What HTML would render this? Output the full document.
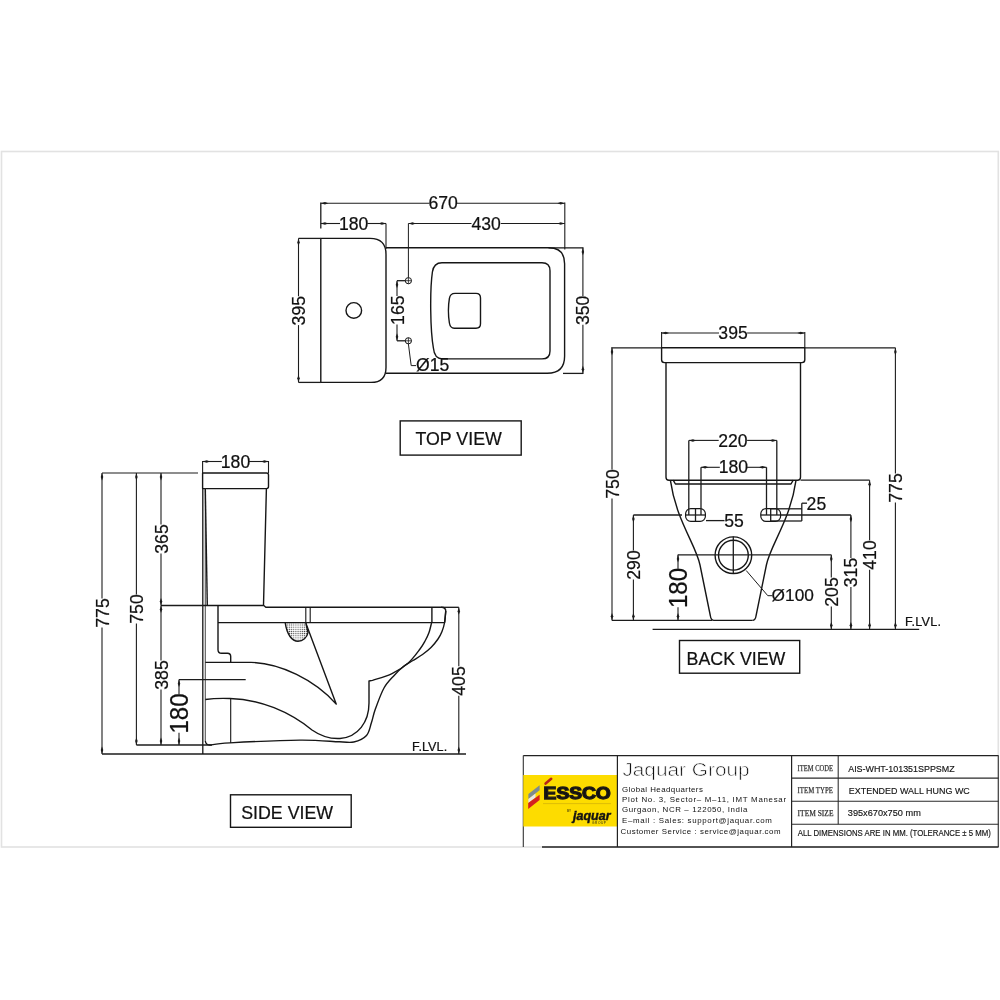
<!DOCTYPE html>
<html><head><meta charset="utf-8"><style>
html,body{margin:0;padding:0;background:#fff;width:1000px;height:1000px;overflow:hidden}
svg{display:block;will-change:transform}
text{font-family:"Liberation Sans",sans-serif;fill:#111}
text.d{stroke:#111;stroke-width:0.22px}
</style></head><body>
<svg width="1000" height="1000" viewBox="0 0 1000 1000">
<rect width="1000" height="1000" fill="#fff"/>
<rect x="1.5" y="151.5" width="996.8" height="695.5" fill="none" stroke="#e2e2e2" stroke-width="1.6"/>
<path d="M320.8,238.4 H370 Q386,238.4 386,254.4 V367.4 Q386,382.4 371,382.4 H320.8 Z" stroke="#161616" stroke-width="1.4" fill="none" stroke-linejoin="round"/>
<path d="M386,247.8 H549 Q564.6,247.8 564.6,263.8 V356.3 Q564.6,373.3 547.3,373.3 H386" stroke="#161616" stroke-width="1.4" fill="none" stroke-linejoin="round"/>
<path d="M442,262.7 H542 Q550,262.7 550,270.7 V350.9 Q550,358.9 542,358.9 H442.5 C436.5,358.9 434,354.5 433.4,348 C430.2,330 429.8,290 432.4,272 C433.2,266 436,262.7 442,262.7 Z" stroke="#161616" stroke-width="1.4" fill="none" stroke-linejoin="round"/>
<path d="M455,293.4 H476 Q480.5,293.4 480.5,297.9 V323.7 Q480.5,328.2 476,328.2 H454.2 C451,328.2 449.9,326 449.4,323 C448.3,316 448.3,305 449.4,298.4 C449.9,295.2 451.5,293.4 455,293.4 Z" stroke="#161616" stroke-width="1.4" fill="none" stroke-linejoin="round"/>
<circle cx="353.8" cy="310.4" r="7.8" fill="none" stroke="#161616" stroke-width="1.4"/>
<circle cx="408.4" cy="280.7" r="3.1" fill="none" stroke="#161616" stroke-width="1"/>
<line x1="405.3" y1="280.7" x2="411.5" y2="280.7" stroke="#1c1c1c" stroke-width="0.8"/>
<line x1="408.4" y1="277.59999999999997" x2="408.4" y2="283.8" stroke="#1c1c1c" stroke-width="0.8"/>
<circle cx="408.4" cy="340.8" r="3.1" fill="none" stroke="#161616" stroke-width="1"/>
<line x1="405.3" y1="340.8" x2="411.5" y2="340.8" stroke="#1c1c1c" stroke-width="0.8"/>
<line x1="408.4" y1="337.7" x2="408.4" y2="343.90000000000003" stroke="#1c1c1c" stroke-width="0.8"/>
<line x1="320.8" y1="202.6" x2="320.8" y2="228.6" stroke="#1c1c1c" stroke-width="1.3"/>
<line x1="564.8" y1="202.6" x2="564.8" y2="249.5" stroke="#1c1c1c" stroke-width="1.1"/>
<line x1="320.8" y1="203.3" x2="429.40000000000003" y2="203.3" stroke="#1c1c1c" stroke-width="1.1"/>
<line x1="457.0" y1="203.3" x2="564.8" y2="203.3" stroke="#1c1c1c" stroke-width="1.1"/>
<path d="M320.80,203.30 L324.93,202.05 L328.30,203.30 L324.93,204.55 Z" fill="#1c1c1c"/>
<path d="M564.80,203.30 L560.67,204.55 L557.30,203.30 L560.67,202.05 Z" fill="#1c1c1c"/>
<text class="d" x="443.20000000000005" y="209.40720000000002" font-size="17.6" text-anchor="middle" >670</text>
<line x1="386" y1="223.5" x2="386" y2="249" stroke="#1c1c1c" stroke-width="1.1"/>
<line x1="320.8" y1="223.5" x2="340.0" y2="223.5" stroke="#1c1c1c" stroke-width="1.1"/>
<line x1="367.4" y1="223.5" x2="386" y2="223.5" stroke="#1c1c1c" stroke-width="1.1"/>
<path d="M320.80,223.50 L324.93,222.25 L328.30,223.50 L324.93,224.75 Z" fill="#1c1c1c"/>
<path d="M386.00,223.50 L381.88,224.75 L378.50,223.50 L381.88,222.25 Z" fill="#1c1c1c"/>
<text class="d" x="353.7" y="229.6072" font-size="17.6" text-anchor="middle" >180</text>
<line x1="408.4" y1="223.5" x2="408.4" y2="277.6" stroke="#1c1c1c" stroke-width="1.0"/>
<line x1="408.4" y1="223.5" x2="471.5" y2="223.5" stroke="#1c1c1c" stroke-width="1.1"/>
<line x1="500.8" y1="223.5" x2="564.8" y2="223.5" stroke="#1c1c1c" stroke-width="1.1"/>
<path d="M408.40,223.50 L412.52,222.25 L415.90,223.50 L412.52,224.75 Z" fill="#1c1c1c"/>
<path d="M564.80,223.50 L560.67,224.75 L557.30,223.50 L560.67,222.25 Z" fill="#1c1c1c"/>
<text class="d" x="486.15" y="229.6072" font-size="17.6" text-anchor="middle" >430</text>
<line x1="298.5" y1="238.4" x2="320.8" y2="238.4" stroke="#1c1c1c" stroke-width="1.3"/>
<line x1="298.5" y1="382.4" x2="320.8" y2="382.4" stroke="#1c1c1c" stroke-width="1.3"/>
<line x1="298.5" y1="238.4" x2="298.5" y2="296.3" stroke="#1c1c1c" stroke-width="1.1"/>
<line x1="298.5" y1="325.09999999999997" x2="298.5" y2="382.4" stroke="#1c1c1c" stroke-width="1.1"/>
<path d="M298.50,238.40 L299.75,242.53 L298.50,245.90 L297.25,242.53 Z" fill="#1c1c1c"/>
<path d="M298.50,382.40 L297.25,378.27 L298.50,374.90 L299.75,378.27 Z" fill="#1c1c1c"/>
<text class="d" x="298.5" y="317.30" font-size="17.6" text-anchor="middle" transform="rotate(-90 298.5 310.7)" >395</text>
<line x1="548.5" y1="247.8" x2="583.5" y2="247.8" stroke="#161616" stroke-width="1.3"/>
<line x1="563" y1="373.4" x2="583.5" y2="373.4" stroke="#1c1c1c" stroke-width="1.3"/>
<line x1="582.9" y1="247.8" x2="582.9" y2="295.90000000000003" stroke="#1c1c1c" stroke-width="1.1"/>
<line x1="582.9" y1="324.7" x2="582.9" y2="373.3" stroke="#1c1c1c" stroke-width="1.1"/>
<path d="M582.90,247.80 L584.15,251.93 L582.90,255.30 L581.65,251.93 Z" fill="#1c1c1c"/>
<path d="M582.90,373.30 L581.65,369.18 L582.90,365.80 L584.15,369.18 Z" fill="#1c1c1c"/>
<text class="d" x="582.9" y="316.90" font-size="17.6" text-anchor="middle" transform="rotate(-90 582.9 310.3)" >350</text>
<line x1="397" y1="280.7" x2="405.3" y2="280.7" stroke="#1c1c1c" stroke-width="1.3"/>
<line x1="397" y1="340.8" x2="405.3" y2="340.8" stroke="#1c1c1c" stroke-width="1.3"/>
<line x1="397" y1="280.7" x2="397" y2="296.0" stroke="#1c1c1c" stroke-width="1.1"/>
<line x1="397" y1="324.4" x2="397" y2="340.8" stroke="#1c1c1c" stroke-width="1.1"/>
<path d="M397.00,280.70 L398.25,284.82 L397.00,288.20 L395.75,284.82 Z" fill="#1c1c1c"/>
<path d="M397.00,340.80 L395.75,336.68 L397.00,333.30 L398.25,336.68 Z" fill="#1c1c1c"/>
<text class="d" x="397" y="316.80" font-size="17.6" text-anchor="middle" transform="rotate(-90 397 310.2)" >165</text>
<path d="M408.4,343.9 L410.2,358 L411.2,365.6 H416" stroke="#1c1c1c" stroke-width="1.0" fill="none" stroke-linejoin="round"/>
<text class="d" x="416" y="370.6" font-size="17.6" text-anchor="start" >Ø15</text>
<rect x="400.2" y="420.9" width="121" height="34.2" fill="none" stroke="#161616" stroke-width="1.4"/>
<text class="d" x="415.5" y="444.6" font-size="17.8" text-anchor="start" >TOP VIEW</text>
<path d="M202.6,473 H266.5 Q268.5,473 268.5,475 V486.5 Q268.5,488.6 266.5,488.6 H202.6 Z" stroke="#161616" stroke-width="1.4" fill="none" stroke-linejoin="round"/>
<line x1="202.6" y1="461" x2="202.6" y2="473" stroke="#1c1c1c" stroke-width="1.1"/>
<line x1="268.5" y1="461" x2="268.5" y2="473" stroke="#1c1c1c" stroke-width="1.1"/>
<line x1="202.6" y1="461.5" x2="221.8" y2="461.5" stroke="#1c1c1c" stroke-width="1.1"/>
<line x1="249.2" y1="461.5" x2="268.5" y2="461.5" stroke="#1c1c1c" stroke-width="1.1"/>
<path d="M202.60,461.50 L206.72,460.25 L210.10,461.50 L206.72,462.75 Z" fill="#1c1c1c"/>
<path d="M268.50,461.50 L264.38,462.75 L261.00,461.50 L264.38,460.25 Z" fill="#1c1c1c"/>
<text class="d" x="235.5" y="467.6072" font-size="17.6" text-anchor="middle" >180</text>
<line x1="102" y1="473" x2="198" y2="473" stroke="#1c1c1c" stroke-width="1.15"/>
<line x1="102" y1="754" x2="466" y2="754" stroke="#1c1c1c" stroke-width="1.3"/>
<line x1="202.8" y1="488.6" x2="202.8" y2="754" stroke="#161616" stroke-width="1.3"/>
<line x1="205.3" y1="488.6" x2="205.3" y2="741" stroke="#555" stroke-width="1.1"/>
<path d="M205.3,488.6 L207.3,605.5" stroke="#161616" stroke-width="1.4" fill="none" stroke-linejoin="round"/>
<path d="M266.4,488.6 L263.5,605.2 L265.8,607.3 H441.5 Q445.8,607.3 445.8,611.5 L444.6,622.6" stroke="#161616" stroke-width="1.4" fill="none" stroke-linejoin="round"/>
<line x1="202.8" y1="605.5" x2="263.5" y2="605.5" stroke="#161616" stroke-width="1.3"/>
<line x1="161" y1="605.5" x2="202.8" y2="605.5" stroke="#1c1c1c" stroke-width="1.3"/>
<line x1="441" y1="607.3" x2="458.8" y2="607.3" stroke="#161616" stroke-width="1.3"/>
<path d="M218,622.6 H444.6" stroke="#161616" stroke-width="1.4" fill="none" stroke-linejoin="round"/>
<path d="M431.9,607.3 V622.6" stroke="#161616" stroke-width="1.4" fill="none" stroke-linejoin="round"/>
<path d="M305.8,607.3 V622.6" stroke="#161616" stroke-width="1.1" fill="none" stroke-linejoin="round"/>
<path d="M310.2,607.3 V622.6" stroke="#161616" stroke-width="1.1" fill="none" stroke-linejoin="round"/>
<path d="M218,605.5 V649.8 Q218,653.3 221.6,653.3 H227.5 Q230.7,653.3 230.7,656.5 V662.4" stroke="#161616" stroke-width="1.4" fill="none" stroke-linejoin="round"/>
<path d="M205.3,662.4 H251 C 280,663 315,680 336.2,704.1 L305.6,622.6" stroke="#161616" stroke-width="1.4" fill="none" stroke-linejoin="round"/>
<defs><pattern id="dots" x="0.3" y="0.4" width="2.15" height="2.15" patternUnits="userSpaceOnUse"><rect width="2.15" height="2.15" fill="#fff"/><circle cx="1.07" cy="1.07" r="0.62" fill="#333"/></pattern></defs>
<path d="M285.2,622.6 C 286,628 287.5,633 290,636.5 C 292.5,640 295,641.2 298,641.2 C 303,641.2 307,637.5 308,632.6 L305.7,622.6 Z" stroke="#161616" stroke-width="1.4" fill="url(#dots)" stroke-linejoin="round"/>
<path d="M205.3,699.5 Q216,698 230,698.5 C 260,699 290,712 312,730 C 322,737 330,739 340,738.5 C 358,737 369,722 369,703 V681 L372.5,680.4 C375.75,679.27 386.08,676.47 392,673.6 C397.92,670.73 403.33,667.30 408,663.2 C412.67,659.10 417.12,652.78 420,649 C422.88,645.22 423.80,643.25 425.3,640.5 C426.80,637.75 427.95,635.48 429,632.5 C430.05,629.52 431.17,624.25 431.6,622.6" stroke="#161616" stroke-width="1.4" fill="none" stroke-linejoin="round"/>
<path d="M445.7,611 C445.52,612.92 445.22,619.08 444.6,622.5 C443.98,625.92 443.10,628.75 442,631.5 C440.90,634.25 439.83,636.33 438,639 C436.17,641.67 433.58,644.92 431,647.5 C428.42,650.08 425.50,652.33 422.5,654.5 C419.50,656.67 416.08,658.58 413,660.5 C409.92,662.42 407.10,663.55 404,666 C400.90,668.45 397.73,671.53 394.4,675.2 C391.07,678.87 387.20,682.27 384,688 C380.80,693.73 377.30,703.80 375.2,709.6 C373.10,715.40 372.85,718.48 371.4,722.8 C369.95,727.12 369.43,732.30 366.5,735.5 C363.57,738.70 358.30,740.95 353.8,742 C349.30,743.05 348.47,742.12 339.5,741.8 C330.53,741.48 318.25,739.92 300,740.1 C281.75,740.28 244.93,742.08 230,742.9 C215.07,743.72 213.67,744.65 210.4,745 Q206,745.5 205.3,741" stroke="#161616" stroke-width="1.4" fill="none" stroke-linejoin="round"/>
<path d="M230.7,698.6 V742.9" stroke="#161616" stroke-width="1.1" fill="none" stroke-linejoin="round"/>
<line x1="136.4" y1="745" x2="212" y2="745" stroke="#1c1c1c" stroke-width="1.3"/>
<line x1="179" y1="679.6" x2="245.7" y2="679.6" stroke="#1c1c1c" stroke-width="1.3"/>
<line x1="102" y1="473" x2="102" y2="598.5999999999999" stroke="#1c1c1c" stroke-width="1.1"/>
<line x1="102" y1="627.4000000000001" x2="102" y2="754" stroke="#1c1c1c" stroke-width="1.1"/>
<path d="M102.00,473.00 L103.25,477.12 L102.00,480.50 L100.75,477.12 Z" fill="#1c1c1c"/>
<path d="M102.00,754.00 L100.75,749.88 L102.00,746.50 L103.25,749.88 Z" fill="#1c1c1c"/>
<text class="d" x="102" y="619.60" font-size="17.6" text-anchor="middle" transform="rotate(-90 102 613)" >775</text>
<line x1="136.4" y1="473" x2="136.4" y2="594.5999999999999" stroke="#1c1c1c" stroke-width="1.1"/>
<line x1="136.4" y1="623.4000000000001" x2="136.4" y2="745" stroke="#1c1c1c" stroke-width="1.1"/>
<path d="M136.40,473.00 L137.65,477.12 L136.40,480.50 L135.15,477.12 Z" fill="#1c1c1c"/>
<path d="M136.40,745.00 L135.15,740.88 L136.40,737.50 L137.65,740.88 Z" fill="#1c1c1c"/>
<text class="d" x="136.4" y="615.60" font-size="17.6" text-anchor="middle" transform="rotate(-90 136.4 609)" >750</text>
<line x1="161" y1="473" x2="161" y2="524.5999999999999" stroke="#1c1c1c" stroke-width="1.1"/>
<line x1="161" y1="553.4000000000001" x2="161" y2="605.5" stroke="#1c1c1c" stroke-width="1.1"/>
<path d="M161.00,473.00 L162.25,477.12 L161.00,480.50 L159.75,477.12 Z" fill="#1c1c1c"/>
<path d="M161.00,605.50 L159.75,601.38 L161.00,598.00 L162.25,601.38 Z" fill="#1c1c1c"/>
<text class="d" x="161" y="545.60" font-size="17.6" text-anchor="middle" transform="rotate(-90 161 539)" >365</text>
<line x1="161" y1="605.5" x2="161" y2="660.5999999999999" stroke="#1c1c1c" stroke-width="1.1"/>
<line x1="161" y1="689.4000000000001" x2="161" y2="745" stroke="#1c1c1c" stroke-width="1.1"/>
<path d="M161.00,605.50 L162.25,609.62 L161.00,613.00 L159.75,609.62 Z" fill="#1c1c1c"/>
<path d="M161.00,745.00 L159.75,740.88 L161.00,737.50 L162.25,740.88 Z" fill="#1c1c1c"/>
<text class="d" x="161" y="681.60" font-size="17.6" text-anchor="middle" transform="rotate(-90 161 675)" >385</text>
<line x1="179" y1="679.6" x2="179" y2="694.3" stroke="#1c1c1c" stroke-width="1.1"/>
<line x1="179" y1="732.7" x2="179" y2="745" stroke="#1c1c1c" stroke-width="1.1"/>
<path d="M179.00,679.60 L180.25,683.73 L179.00,687.10 L177.75,683.73 Z" fill="#1c1c1c"/>
<path d="M179.00,745.00 L177.75,740.88 L179.00,737.50 L180.25,740.88 Z" fill="#1c1c1c"/>
<text class="d" x="179" y="722.88" font-size="25" text-anchor="middle" transform="rotate(-90 179 713.5)" textLength="40" lengthAdjust="spacingAndGlyphs">180</text>
<line x1="458.8" y1="607.3" x2="458.8" y2="666.1999999999999" stroke="#1c1c1c" stroke-width="1.1"/>
<line x1="458.8" y1="695.8000000000001" x2="458.8" y2="754" stroke="#1c1c1c" stroke-width="1.1"/>
<path d="M458.80,607.30 L460.05,611.42 L458.80,614.80 L457.55,611.42 Z" fill="#1c1c1c"/>
<path d="M458.80,754.00 L457.55,749.88 L458.80,746.50 L460.05,749.88 Z" fill="#1c1c1c"/>
<text class="d" x="458.8" y="687.60" font-size="17.6" text-anchor="middle" transform="rotate(-90 458.8 681)" >405</text>
<text class="d" x="412" y="751" font-size="12.6" text-anchor="start" textLength="35.2" lengthAdjust="spacing">F.LVL.</text>
<rect x="230.5" y="794.8" width="120.7" height="32.5" fill="none" stroke="#161616" stroke-width="1.4"/>
<text class="d" x="241.2" y="818.8" font-size="17.8" text-anchor="start" >SIDE VIEW</text>
<path d="M661.6,347.8 H804.8 V359.8 Q804.8,362.6 802,362.6 H664.4 Q661.6,362.6 661.6,359.8 Z" stroke="#161616" stroke-width="1.4" fill="none" stroke-linejoin="round"/>
<path d="M666,362.6 V477.2 Q666,480.2 669,480.2 H797.5 Q800.5,480.2 800.5,477.2 V362.6" stroke="#161616" stroke-width="1.4" fill="none" stroke-linejoin="round"/>
<path d="M673.2,480.2 L675.4,484 H791 L793.2,480.2" stroke="#161616" stroke-width="1.4" fill="none" stroke-linejoin="round"/>
<path d="M670.4,480.4 C 676,520 696,545 700,565 C 704,585 708,605 710.4,616 Q 711,620.4 714,620.4" stroke="#161616" stroke-width="1.4" fill="none" stroke-linejoin="round"/>
<path d="M 796.00 480.40 C 790.40 520.00 770.40 545.00 766.40 565.00 C 762.40 585.00 758.40 605.00 756.00 616.00 Q 755.40 620.40 752.40 620.40" stroke="#161616" stroke-width="1.4" fill="none" stroke-linejoin="round"/>
<path d="M714,620.4 H752.4" stroke="#161616" stroke-width="1.4" fill="none" stroke-linejoin="round"/>
<circle cx="733.4" cy="555.2" r="18.3" fill="none" stroke="#161616" stroke-width="1.4"/>
<circle cx="733.4" cy="555.2" r="14.9" fill="none" stroke="#161616" stroke-width="1.4"/>
<line x1="733.3" y1="536.5" x2="733.3" y2="573.2" stroke="#1c1c1c" stroke-width="1.3"/>
<line x1="677.8" y1="554.8" x2="831.3" y2="554.8" stroke="#1c1c1c" stroke-width="1.3"/>
<rect x="685.6" y="508.6" width="19.8" height="12.8" rx="5.2" ry="5.2" fill="none" stroke="#161616" stroke-width="1.2"/>
<line x1="695.5" y1="508.6" x2="695.5" y2="521.4" stroke="#1c1c1c" stroke-width="1.3"/>
<line x1="685.6" y1="515" x2="705.4" y2="515" stroke="#1c1c1c" stroke-width="1.3"/>
<rect x="760.8" y="508.6" width="19.8" height="12.8" rx="5.2" ry="5.2" fill="none" stroke="#161616" stroke-width="1.2"/>
<line x1="770.6999999999999" y1="508.6" x2="770.6999999999999" y2="521.4" stroke="#1c1c1c" stroke-width="1.3"/>
<line x1="760.8" y1="515" x2="780.5999999999999" y2="515" stroke="#1c1c1c" stroke-width="1.3"/>
<line x1="688.8" y1="440.4" x2="688.8" y2="515" stroke="#1c1c1c" stroke-width="1.3"/>
<line x1="776.8" y1="440.4" x2="776.8" y2="515" stroke="#1c1c1c" stroke-width="1.3"/>
<line x1="688.8" y1="440.4" x2="718.6999999999999" y2="440.4" stroke="#1c1c1c" stroke-width="1.1"/>
<line x1="747.1" y1="440.4" x2="776.8" y2="440.4" stroke="#1c1c1c" stroke-width="1.1"/>
<path d="M688.80,440.40 L692.92,439.15 L696.30,440.40 L692.92,441.65 Z" fill="#1c1c1c"/>
<path d="M776.80,440.40 L772.67,441.65 L769.30,440.40 L772.67,439.15 Z" fill="#1c1c1c"/>
<text class="d" x="732.9" y="446.50719999999995" font-size="17.6" text-anchor="middle" >220</text>
<line x1="701" y1="467.3" x2="701" y2="515" stroke="#1c1c1c" stroke-width="1.3"/>
<line x1="766.5" y1="467.3" x2="766.5" y2="515" stroke="#1c1c1c" stroke-width="1.3"/>
<line x1="701" y1="467.3" x2="719.8" y2="467.3" stroke="#1c1c1c" stroke-width="1.1"/>
<line x1="747.1" y1="467.3" x2="766.5" y2="467.3" stroke="#1c1c1c" stroke-width="1.1"/>
<path d="M701.00,467.30 L705.12,466.05 L708.50,467.30 L705.12,468.55 Z" fill="#1c1c1c"/>
<path d="M766.50,467.30 L762.38,468.55 L759.00,467.30 L762.38,466.05 Z" fill="#1c1c1c"/>
<text class="d" x="733.45" y="473.4072" font-size="17.6" text-anchor="middle" >180</text>
<line x1="661.6" y1="332" x2="661.6" y2="347.8" stroke="#1c1c1c" stroke-width="1.1"/>
<line x1="804.8" y1="332" x2="804.8" y2="347.8" stroke="#1c1c1c" stroke-width="1.1"/>
<line x1="661.6" y1="333" x2="719.0" y2="333" stroke="#1c1c1c" stroke-width="1.1"/>
<line x1="747.1" y1="333" x2="804.8" y2="333" stroke="#1c1c1c" stroke-width="1.1"/>
<path d="M661.60,333.00 L665.73,331.75 L669.10,333.00 L665.73,334.25 Z" fill="#1c1c1c"/>
<path d="M804.80,333.00 L800.67,334.25 L797.30,333.00 L800.67,331.75 Z" fill="#1c1c1c"/>
<text class="d" x="733.05" y="339.1072" font-size="17.6" text-anchor="middle" >395</text>
<line x1="611.2" y1="347.8" x2="661.6" y2="347.8" stroke="#1c1c1c" stroke-width="1.3"/>
<line x1="612" y1="620.4" x2="712" y2="620.4" stroke="#1c1c1c" stroke-width="1.3"/>
<line x1="633.4" y1="515" x2="682" y2="515" stroke="#1c1c1c" stroke-width="1.3"/>
<line x1="612" y1="347.8" x2="612" y2="469.6" stroke="#1c1c1c" stroke-width="1.1"/>
<line x1="612" y1="498.4" x2="612" y2="620.4" stroke="#1c1c1c" stroke-width="1.1"/>
<path d="M612.00,347.80 L613.25,351.93 L612.00,355.30 L610.75,351.93 Z" fill="#1c1c1c"/>
<path d="M612.00,620.40 L610.75,616.27 L612.00,612.90 L613.25,616.27 Z" fill="#1c1c1c"/>
<text class="d" x="612" y="490.60" font-size="17.6" text-anchor="middle" transform="rotate(-90 612 484)" >750</text>
<line x1="633.4" y1="515" x2="633.4" y2="550.5999999999999" stroke="#1c1c1c" stroke-width="1.1"/>
<line x1="633.4" y1="579.4000000000001" x2="633.4" y2="620.4" stroke="#1c1c1c" stroke-width="1.1"/>
<path d="M633.40,515.00 L634.65,519.12 L633.40,522.50 L632.15,519.12 Z" fill="#1c1c1c"/>
<path d="M633.40,620.40 L632.15,616.27 L633.40,612.90 L634.65,616.27 Z" fill="#1c1c1c"/>
<text class="d" x="633.4" y="571.60" font-size="17.6" text-anchor="middle" transform="rotate(-90 633.4 565)" >290</text>
<line x1="678" y1="554.8" x2="678" y2="568.8" stroke="#1c1c1c" stroke-width="1.1"/>
<line x1="678" y1="607.2" x2="678" y2="620.4" stroke="#1c1c1c" stroke-width="1.1"/>
<path d="M678.00,554.80 L679.25,558.92 L678.00,562.30 L676.75,558.92 Z" fill="#1c1c1c"/>
<path d="M678.00,620.40 L676.75,616.27 L678.00,612.90 L679.25,616.27 Z" fill="#1c1c1c"/>
<text class="d" x="678" y="597.38" font-size="25" text-anchor="middle" transform="rotate(-90 678 588)" textLength="40" lengthAdjust="spacingAndGlyphs">180</text>
<line x1="706" y1="520.6" x2="724.5" y2="520.6" stroke="#1c1c1c" stroke-width="1.3"/>
<text class="d" x="724.3" y="526.8" font-size="17.6" text-anchor="start" >55</text>
<line x1="770.5" y1="508.8" x2="801.8" y2="508.8" stroke="#1c1c1c" stroke-width="1.3"/>
<line x1="770.5" y1="521" x2="801.8" y2="521" stroke="#1c1c1c" stroke-width="1.3"/>
<line x1="801.8" y1="503.2" x2="801.8" y2="521" stroke="#1c1c1c" stroke-width="1.3"/>
<line x1="801.8" y1="503.2" x2="807" y2="503.2" stroke="#1c1c1c" stroke-width="1.3"/>
<text class="d" x="806.6" y="509.5" font-size="17.6" text-anchor="start" >25</text>
<line x1="780.4" y1="515" x2="850.9" y2="515" stroke="#1c1c1c" stroke-width="1.3"/>
<line x1="800.5" y1="480.2" x2="869.6" y2="480.2" stroke="#1c1c1c" stroke-width="1.3"/>
<line x1="804.8" y1="347.8" x2="895.4" y2="347.8" stroke="#1c1c1c" stroke-width="1.3"/>
<line x1="831.3" y1="554.8" x2="831.3" y2="577.5999999999999" stroke="#1c1c1c" stroke-width="1.1"/>
<line x1="831.3" y1="606.4000000000001" x2="831.3" y2="629.4" stroke="#1c1c1c" stroke-width="1.1"/>
<path d="M831.30,554.80 L832.55,558.92 L831.30,562.30 L830.05,558.92 Z" fill="#1c1c1c"/>
<path d="M831.30,629.40 L830.05,625.27 L831.30,621.90 L832.55,625.27 Z" fill="#1c1c1c"/>
<text class="d" x="831.3" y="598.60" font-size="17.6" text-anchor="middle" transform="rotate(-90 831.3 592)" >205</text>
<line x1="850.9" y1="515" x2="850.9" y2="558.0999999999999" stroke="#1c1c1c" stroke-width="1.1"/>
<line x1="850.9" y1="586.9000000000001" x2="850.9" y2="629.4" stroke="#1c1c1c" stroke-width="1.1"/>
<path d="M850.90,515.00 L852.15,519.12 L850.90,522.50 L849.65,519.12 Z" fill="#1c1c1c"/>
<path d="M850.90,629.40 L849.65,625.27 L850.90,621.90 L852.15,625.27 Z" fill="#1c1c1c"/>
<text class="d" x="850.9" y="579.10" font-size="17.6" text-anchor="middle" transform="rotate(-90 850.9 572.5)" >315</text>
<line x1="869.6" y1="480.2" x2="869.6" y2="540.1999999999999" stroke="#1c1c1c" stroke-width="1.1"/>
<line x1="869.6" y1="569.8000000000001" x2="869.6" y2="629.4" stroke="#1c1c1c" stroke-width="1.1"/>
<path d="M869.60,480.20 L870.85,484.32 L869.60,487.70 L868.35,484.32 Z" fill="#1c1c1c"/>
<path d="M869.60,629.40 L868.35,625.27 L869.60,621.90 L870.85,625.27 Z" fill="#1c1c1c"/>
<text class="d" x="869.6" y="561.60" font-size="17.6" text-anchor="middle" transform="rotate(-90 869.6 555)" >410</text>
<line x1="895.4" y1="347.8" x2="895.4" y2="473.6" stroke="#1c1c1c" stroke-width="1.1"/>
<line x1="895.4" y1="502.4" x2="895.4" y2="629.4" stroke="#1c1c1c" stroke-width="1.1"/>
<path d="M895.40,347.80 L896.65,351.93 L895.40,355.30 L894.15,351.93 Z" fill="#1c1c1c"/>
<path d="M895.40,629.40 L894.15,625.27 L895.40,621.90 L896.65,625.27 Z" fill="#1c1c1c"/>
<text class="d" x="895.4" y="494.60" font-size="17.6" text-anchor="middle" transform="rotate(-90 895.4 488)" >775</text>
<line x1="652.6" y1="629.4" x2="919.2" y2="629.4" stroke="#1c1c1c" stroke-width="1.3"/>
<text class="d" x="905" y="626" font-size="12.6" text-anchor="start" textLength="36" lengthAdjust="spacing">F.LVL.</text>
<path d="M746.2,570.5 L767.8,595.7 H772.3" stroke="#1c1c1c" stroke-width="1.0" fill="none" stroke-linejoin="round"/>
<text class="d" x="771.6" y="600.9" font-size="17.3" text-anchor="start" >Ø100</text>
<rect x="679.5" y="640.5" width="120.2" height="32.7" fill="none" stroke="#161616" stroke-width="1.4"/>
<text class="d" x="686.6" y="664.5" font-size="17.8" text-anchor="start" >BACK VIEW</text>
<line x1="523.3" y1="755.5" x2="998.5" y2="755.5" stroke="#222" stroke-width="1.25"/>
<line x1="523.3" y1="755.5" x2="523.3" y2="847" stroke="#333" stroke-width="1.1"/>
<line x1="998.3" y1="755.5" x2="998.3" y2="847" stroke="#333" stroke-width="1.1"/>
<line x1="542" y1="847" x2="998.5" y2="847" stroke="#222" stroke-width="1.3"/>
<rect x="523.3" y="775" width="94.1" height="51.5" fill="#fddc00"/>
<line x1="617.4" y1="755.5" x2="617.4" y2="847" stroke="#222" stroke-width="1.2"/>
<line x1="791.6" y1="755.5" x2="791.6" y2="847" stroke="#222" stroke-width="1.2"/>
<line x1="791.6" y1="778.1" x2="998.5" y2="778.1" stroke="#2a2a2a" stroke-width="1.05"/>
<line x1="791.6" y1="801.2" x2="998.5" y2="801.2" stroke="#2a2a2a" stroke-width="1.05"/>
<line x1="791.6" y1="824.2" x2="998.5" y2="824.2" stroke="#2a2a2a" stroke-width="1.05"/>
<line x1="838.2" y1="755.5" x2="838.2" y2="824.2" stroke="#2a2a2a" stroke-width="1.05"/>
<path d="M528.4,794 L539.6,785.2 L539.6,790.2 L528.4,799 Z" fill="#7d8a92"/>
<path d="M528.4,799 L535.5,793.4 L535.5,797.6 L528.4,803 Z" fill="#e9e6ea"/>
<path d="M528.2,803 L539.6,794.8 L539.6,800 L528.2,809 Z" fill="#d42020"/>
<path d="M545.6,783.6 L551.2,778.8" stroke="#b8241a" stroke-width="2.6" stroke-linecap="round"/>
<text  x="543.6" y="799.0" font-size="16.4" text-anchor="start" font-weight="bold" fill="#1d1a14" stroke="#1d1a14" stroke-width="1.3" textLength="67.2" lengthAdjust="spacingAndGlyphs">ESSCO</text>
<line x1="543" y1="803.6" x2="611" y2="803.6" stroke="#c9a80a" stroke-width="0.6"/>
<text  x="567" y="812" font-size="3" text-anchor="start" fill="#333">BY</text>
<text  x="573" y="819.5" font-size="13" text-anchor="start" font-weight="bold" font-style="italic" fill="#1d1a14" stroke="#1d1a14" stroke-width="0.5" textLength="37.5" lengthAdjust="spacingAndGlyphs">jaquar</text>
<text  x="592" y="823.5" font-size="3.2" text-anchor="start" fill="#333" textLength="14">GROUP</text>
<text  x="622.4" y="775.9" font-size="17.5" text-anchor="start" fill="#333" font-family="Liberation Sans" lengthAdjust="spacingAndGlyphs" textLength="127.3" stroke="#fff" stroke-width="0.6" paint-order="normal">Jaquar  Group</text>
<text  x="622" y="792.2" font-size="7.9" text-anchor="start" fill="#2a2a2a" lengthAdjust="spacing" textLength="80.9">Global Headquarters</text>
<text  x="622" y="801.8" font-size="7.9" text-anchor="start" fill="#2a2a2a" lengthAdjust="spacing" textLength="164.1">Plot No. 3, Sector– M–11, IMT Manesar</text>
<text  x="622" y="812.3" font-size="7.9" text-anchor="start" fill="#2a2a2a" lengthAdjust="spacing" textLength="125.3">Gurgaon, NCR – 122050, India</text>
<text  x="622" y="823.1" font-size="7.9" text-anchor="start" fill="#2a2a2a" lengthAdjust="spacing" textLength="149.9">E–mail :  Sales:  support@jaquar.com</text>
<text  x="620.5" y="833.6" font-size="7.9" text-anchor="start" fill="#2a2a2a" lengthAdjust="spacing" textLength="160.1">Customer Service :  service@jaquar.com</text>
<text  x="797.6" y="770.9" font-size="9" text-anchor="start" fill="#4a4a4a" style="font-family:'Liberation Serif',serif" stroke="#4a4a4a" stroke-width="0.25" textLength="35.3" lengthAdjust="spacingAndGlyphs">ITEM CODE</text>
<text  x="797.6" y="793.3" font-size="9" text-anchor="start" fill="#4a4a4a" style="font-family:'Liberation Serif',serif" stroke="#4a4a4a" stroke-width="0.25" textLength="35.3" lengthAdjust="spacingAndGlyphs">ITEM TYPE</text>
<text  x="797.6" y="816.4" font-size="9" text-anchor="start" fill="#4a4a4a" style="font-family:'Liberation Serif',serif" stroke="#4a4a4a" stroke-width="0.25" textLength="35.9" lengthAdjust="spacingAndGlyphs">ITEM SIZE</text>
<text  x="848.2" y="771.5" font-size="9.1" text-anchor="start" fill="#1a1a1a" stroke="#1a1a1a" stroke-width="0.15" lengthAdjust="spacingAndGlyphs" textLength="106.5">AIS-WHT-101351SPPSMZ</text>
<text  x="848.8" y="794.1" font-size="9.1" text-anchor="start" fill="#1a1a1a" stroke="#1a1a1a" stroke-width="0.15" lengthAdjust="spacingAndGlyphs" textLength="121">EXTENDED WALL HUNG WC</text>
<text  x="847.8" y="816.2" font-size="9.1" text-anchor="start" fill="#1a1a1a" stroke="#1a1a1a" stroke-width="0.15" lengthAdjust="spacingAndGlyphs" textLength="73">395x670x750  mm</text>
<text  x="797.7" y="836" font-size="8.4" text-anchor="start" fill="#1a1a1a" stroke="#1a1a1a" stroke-width="0.15" lengthAdjust="spacingAndGlyphs" textLength="193.1">ALL DIMENSIONS ARE IN MM. (TOLERANCE ± 5 MM)</text>
</svg></body></html>
